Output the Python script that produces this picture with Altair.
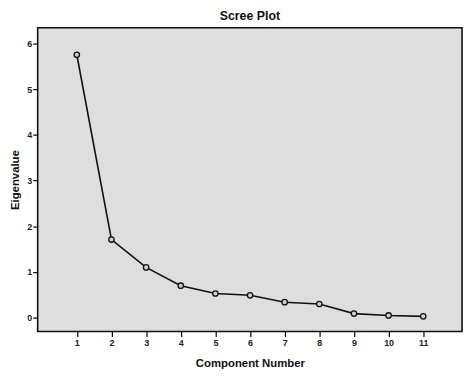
import altair as alt
import pandas as pd

components = [1, 2, 3, 4, 5, 6, 7, 8, 9, 10, 11]
eigenvalues = [5.75, 1.71, 1.10, 0.70, 0.53, 0.49, 0.34, 0.30, 0.09, 0.05, 0.03]
x_ticks = components
y_ticks = [0, 1, 2, 3, 4, 5, 6]

df = pd.DataFrame({"Component Number": components, "Eigenvalue": eigenvalues})

FONT = "Liberation Sans"

x_enc = alt.X(
    "Component Number:Q",
    scale=alt.Scale(domain=[-0.13, 12.12], nice=False, zero=False),
    axis=alt.Axis(values=x_ticks, title="Component Number", grid=False, domain=False,
                  tickSize=5, tickColor="black", tickWidth=1.2, labelPadding=2,
                  labelFontSize=9, labelFontWeight="bold", labelColor="#222",
                  titleFontSize=11.5, titleFontWeight="bold", titlePadding=10,
                  titleColor="#111", labelFont=FONT, titleFont=FONT),
)
y_enc = alt.Y(
    "Eigenvalue:Q",
    scale=alt.Scale(domain=[-0.30, 6.34], nice=False, zero=False),
    axis=alt.Axis(values=y_ticks, title="Eigenvalue", grid=False, domain=False,
                  tickSize=5, tickColor="black", tickWidth=1.2, labelPadding=1,
                  labelFontSize=9, labelFontWeight="bold", labelColor="#222",
                  titleFontSize=11.5, titleFontWeight="bold", titlePadding=6,
                  titleColor="#111", labelFont=FONT, titleFont=FONT),
)

line = alt.Chart(df).mark_line(color="#111", strokeWidth=1.6).encode(x=x_enc, y=y_enc)
pts = alt.Chart(df).mark_point(shape="circle", size=30, filled=False, color="#111",
                               strokeWidth=1.3, fill="#cfcfcf", fillOpacity=1).encode(x=x_enc, y=y_enc)

chart = (line + pts).properties(
    width=429, height=307,
    title=alt.TitleParams("Scree Plot", font=FONT, fontSize=12.5, fontWeight="bold",
                          color="#111", anchor="middle", offset=5),
    autosize=alt.AutoSizeParams(type="none"),
    padding={"left": 30, "top": 18, "right": 4, "bottom": 40},
    background="white",
).configure_view(
    fill="#dedede", stroke="#111", strokeWidth=1.6
)

chart.save("out.html", embed_options={"renderer": "svg", "actions": False})
